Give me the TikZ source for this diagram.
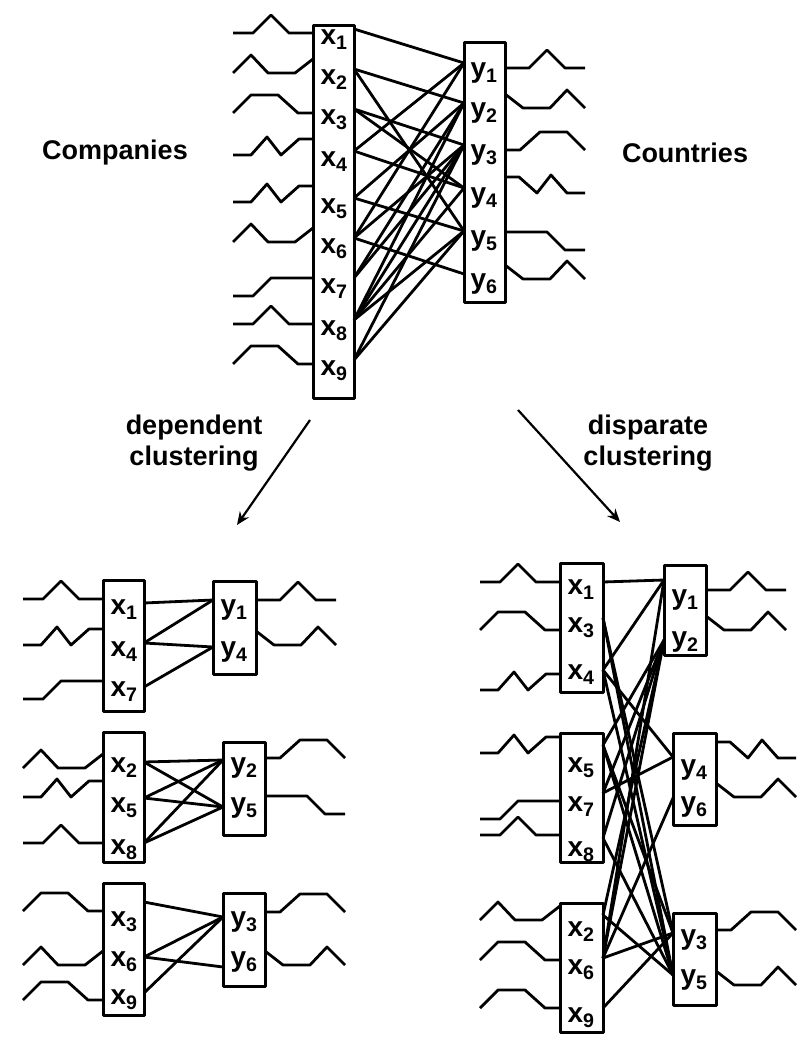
\documentclass[tikz,border=0pt]{standalone}
\usepackage{fontspec}
\setmainfont{Liberation Sans}
\usetikzlibrary{arrows.meta}
\begin{document}
\begin{tikzpicture}[x=1pt,y=-1pt,line width=2.8pt,line join=round,
  lab/.style={inner sep=0pt,font=\bfseries\fontsize{28}{28}\selectfont},
  word/.style={font=\bfseries\fontsize{27}{31}\selectfont,align=center},
  box/.style={draw,line width=3pt},
  pics/bump/.style={code={\draw (-80,0)--(-60,0)--(-42,-18)--(-24,0)--(0,0);}},
  pics/trap/.style={code={\draw (-80,0)--(-62,-18)--(-35,-18)--(-15,0)--(0,0);}},
  pics/zz/.style={code={\draw (-80,0)--(-62,0)--(-46,-18)--(-32,0)--(-14,-16)--(0,-16);}},
  pics/step/.style={code={\draw (-80,14)--(-60,14)--(-42,-4)--(0,-4);}},
  pics/dip/.style={code={\draw (-80,0)--(-62,-18)--(-45,0)--(-18,0)--(0,-14);}}
]
\useasboundingbox (0,0) rectangle (804,1040);
% ---------- top ----------
\node[box,minimum width=41pt,minimum height=372pt,inner sep=0pt] (X) at (333.5,212) {};
\node[box,minimum width=41pt,minimum height=259pt,inner sep=0pt] (Y) at (484.5,172.5) {};
\foreach \i/\y in {1/40,2/80,3/120,4/162,5/209,6/249,7/289,8/331,9/371}{
  \node[lab] (tx\i) at (334,\y) {x\textsubscript{\i}};
  \coordinate (txr\i) at (354,\y-11);
  \coordinate (txl\i) at (313,\y-7);
}
\foreach \i/\y in {1/73,2/113,3/155,4/198,5/241,6/284}{
  \node[lab] (ty\i) at (484,\y) {y\textsubscript{\i}};
  \coordinate (tyl\i) at (464,\y-10);
  \coordinate (tyr\i) at (505,\y-5);
}
\foreach \a/\b in {1/1,2/2,2/5,3/3,3/4,4/1,4/4,5/2,5/5,6/1,6/6,7/2,8/2,8/3,8/4,8/5,9/3,6/3,7/3,9/5}
  \draw (txr\a) -- (tyl\b);
\foreach \i/\p in {1/bump,2/dip,3/trap,4/zz,5/zz,6/dip,7/step,8/bump,9/trap}
  \pic at (txl\i) {\p};
\foreach \i/\p in {1/bump,2/dip,3/trap,4/zz,5/step,6/dip}
  \pic[xscale=-1] at (tyr\i) {\p};
\node[word] (comp) at (115,153) {Companies};
\node[word] (ctry) at (685,153) {Countries};
% ---------- arrows ----------
\node[word] (dep) at (194,443) {dependent\\clustering};
\node[word] (dis) at (648,443) {disparate\\clustering};
\coordinate (a1) at (310,420); \coordinate (a2) at (237,525);
\coordinate (b1) at (518,410); \coordinate (b2) at (620,522);
\draw[-{Stealth[length=13pt,width=11pt]},line width=2.2pt] (a1) -- (a2);
\draw[-{Stealth[length=13pt,width=11pt]},line width=2.2pt] (b1) -- (b2);
% ---------- bottom left ----------
\draw[box] (103,580) rectangle (144,711);
\draw[box] (213,581) rectangle (256,674);
\draw[box] (103,732) rectangle (144,862);
\draw[box] (223,742) rectangle (265,835);
\draw[box] (103,883) rectangle (144,1015);
\draw[box] (223,893) rectangle (265,986);
\foreach \n/\y in {1/610,4/652,7/692,2/768,5/808,8/850,3/922,6/962,9/1000}{
  \node[lab] (lx\n) at (124,\y) {x\textsubscript{\n}};
}
\foreach \n/\y/\x in {1/610/234,4/652/234,2/768/244,5/808/244,3/922/244,6/962/244}{
  \node[lab] (ly\n) at (\x,\y) {y\textsubscript{\n}};
}
\foreach \n/\y in {1/603,4/643,7/687,2/762,5/798,8/843,3/902,6/957,9/993}
  \coordinate (lxr\n) at (144,\y);
\foreach \n/\y/\x in {1/600/213,4/647/213,2/760/223,5/807/223,3/917/223,6/967/223}
  \coordinate (lyl\n) at (\x,\y);
\foreach \a/\b in {1/1,4/1,4/4,7/4,2/2,2/5,5/2,5/5,8/2,8/5,3/3,6/3,6/6,9/3}
  \draw (lxr\a) -- (lyl\b);
\foreach \n/\y/\p in {1/599/bump,4/645/zz,7/685/step,2/768/dip,5/797/zz,8/843/bump,3/911/trap,6/965/dip,9/1000/trap}
  \pic at (103,\y) {\p};
\foreach \y/\p/\x in {600/bump/256,645/dip/256,758/trap/265,800/step/265,912/trap/265,965/dip/265}
  \pic[xscale=-1] at (\x,\y) {\p};
% ---------- bottom right ----------
\draw[box] (560,563) rectangle (603,692);
\draw[box] (664,565) rectangle (706,655);
\draw[box] (560,733) rectangle (603,862);
\draw[box] (673,733) rectangle (716,825);
\draw[box] (560,903) rectangle (603,1032);
\draw[box] (673,913) rectangle (716,1005);
\foreach \n/\y in {1/590,3/628,4/675,5/768,7/807,8/852,2/932,6/970,9/1018}{
  \node[lab] (rx\n) at (581,\y) {x\textsubscript{\n}};
}
\foreach \n/\y/\x in {1/600/685,2/642/685,4/770/694,6/807/694,3/940/694,5/980/694}{
  \node[lab] (ry\n) at (\x,\y) {y\textsubscript{\n}};
}
\foreach \n/\y in {1/582,3/618,4/670,5/745,7/793,8/838,2/915,6/958,9/1008}
  \coordinate (rxr\n) at (603,\y);
\foreach \n/\y/\x in {1/580/664,2/640/664,4/757/673,6/798/673,3/933/673,5/975/673}
  \coordinate (ryl\n) at (\x,\y);
\foreach \a/\b in {1/1,3/5,3/3,4/1,4/4,4/5,5/2,5/5,5/3,7/4,8/2,8/5,2/2,2/5,6/2,6/3,6/1,6/6,9/3,7/2}
  \draw (rxr\a) -- (ryl\b);
\foreach \n/\y/\p in {1/582/bump,3/630/trap,4/690/zz,5/753/zz,7/805/step,8/835/bump,2/920/dip,6/960/trap,9/1008/trap}
  \pic at (560,\y) {\p};
\foreach \y/\p/\x in {590/bump/706,630/dip/706,758/zz/716,797/dip/716,930/trap/716,985/dip/716}
  \pic[xscale=-1] at (\x,\y) {\p};
\end{tikzpicture}
\end{document}
